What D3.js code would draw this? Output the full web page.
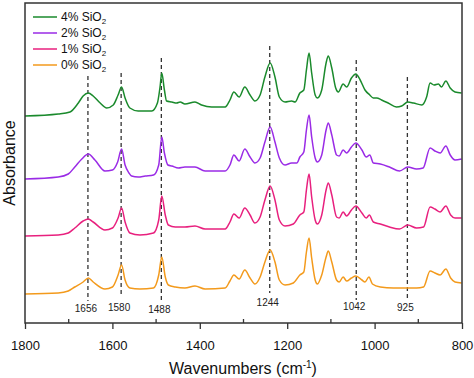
<!DOCTYPE html>
<html><head><meta charset="utf-8">
<script src="https://cdn.jsdelivr.net/npm/d3@7"></script>
<style>
html,body{margin:0;padding:0;background:#fff;}
svg{display:block;font-family:Arial,"Liberation Sans",sans-serif;}
</style></head>
<body><svg id="c" width="474" height="378"></svg>
<script>
// ---------- DATA ----------
const seriesNames = ["4% SiO2", "2% SiO2", "1% SiO2", "0% SiO2"];
const seriesColors = ["#1a8a2c", "#9a2be6", "#e8207e", "#f39a1c"];

const wn4 = [1800,1724,1697,1678,1667,1655,1644,1628,1613,1598,1587,1579,1571,1560,1541,1510,1497,1491,1487,1481,1476,1464,1453,1445,1434,1411,1396,1373,1342,1331,1322,1310,1297,1285,1274,1262,1251,1239,1228,1218,1205,1190,1182,1171,1162,1156,1150,1144,1136,1131,1121,1111,1106,1098,1089,1083,1072,1064,1053,1043,1033,1022,1011,1003,995,984,969,950,938,924,911,892,881,873,864,854,847,837,827,816,801];
const abs4 = [2.07,2.09,2.11,2.20,2.27,2.30,2.27,2.20,2.15,2.18,2.28,2.36,2.25,2.15,2.12,2.12,2.20,2.36,2.50,2.33,2.22,2.21,2.20,2.21,2.19,2.21,2.18,2.16,2.16,2.23,2.31,2.26,2.36,2.28,2.22,2.28,2.46,2.60,2.46,2.26,2.21,2.22,2.21,2.30,2.33,2.53,2.70,2.50,2.28,2.25,2.33,2.60,2.67,2.55,2.35,2.31,2.39,2.36,2.45,2.49,2.43,2.33,2.28,2.25,2.25,2.23,2.20,2.16,2.17,2.21,2.20,2.18,2.26,2.40,2.38,2.39,2.36,2.42,2.35,2.31,2.30];

const wn2 = [1800,1724,1701,1686,1670,1655,1640,1617,1600,1588,1579,1571,1562,1556,1541,1525,1506,1494,1487,1481,1473,1464,1449,1434,1411,1388,1342,1331,1322,1310,1297,1285,1274,1262,1251,1239,1228,1218,1205,1190,1178,1171,1162,1156,1150,1144,1136,1131,1121,1111,1106,1098,1087,1081,1072,1064,1053,1043,1029,1019,1011,1003,987,966,943,924,904,889,873,862,850,837,827,816,801];
const abs2 = [1.44,1.46,1.49,1.56,1.64,1.69,1.63,1.52,1.53,1.61,1.74,1.58,1.50,1.47,1.46,1.47,1.48,1.58,1.86,1.70,1.58,1.57,1.55,1.56,1.56,1.52,1.52,1.58,1.68,1.62,1.74,1.66,1.60,1.65,1.81,1.96,1.81,1.65,1.58,1.60,1.60,1.66,1.71,1.93,2.08,1.86,1.65,1.61,1.68,1.93,2.00,1.88,1.68,1.67,1.73,1.70,1.76,1.80,1.73,1.66,1.68,1.60,1.59,1.56,1.52,1.56,1.54,1.55,1.75,1.72,1.70,1.77,1.68,1.63,1.64];

const wn1 = [1800,1724,1701,1686,1667,1655,1644,1617,1600,1587,1579,1571,1560,1537,1506,1494,1487,1479,1472,1456,1434,1411,1388,1342,1331,1322,1310,1297,1285,1274,1262,1251,1239,1228,1218,1205,1186,1171,1162,1156,1150,1144,1136,1131,1121,1111,1106,1098,1087,1081,1072,1064,1053,1043,1029,1019,1012,1003,987,966,943,924,904,888,873,862,850,837,826,816,801];
const abs1 = [0.87,0.88,0.90,0.95,1.02,1.04,1.01,0.93,0.95,1.05,1.15,1.01,0.90,0.88,0.90,1.03,1.27,1.08,0.98,0.96,0.96,0.97,0.94,0.94,1.01,1.09,1.05,1.15,1.08,1.00,1.06,1.23,1.37,1.23,1.03,0.97,0.99,1.08,1.11,1.33,1.49,1.26,1.03,0.99,1.08,1.33,1.40,1.28,1.06,1.05,1.11,1.07,1.13,1.17,1.10,1.05,1.08,1.01,0.99,0.96,0.94,0.98,0.95,0.96,1.16,1.14,1.11,1.17,1.08,1.05,1.05];

const wn0 = [1800,1724,1701,1686,1667,1655,1644,1617,1600,1587,1579,1571,1560,1537,1506,1494,1487,1479,1472,1456,1434,1411,1388,1342,1331,1322,1310,1297,1285,1274,1262,1251,1239,1228,1218,1205,1186,1171,1162,1156,1150,1144,1136,1131,1121,1111,1106,1098,1087,1081,1072,1064,1053,1043,1029,1022,1013,1005,987,957,924,904,888,873,862,850,837,826,816,801];
const abs0 = [0.29,0.30,0.32,0.36,0.41,0.45,0.41,0.34,0.36,0.48,0.58,0.43,0.35,0.34,0.35,0.48,0.66,0.46,0.38,0.36,0.35,0.37,0.34,0.35,0.42,0.48,0.44,0.53,0.45,0.39,0.46,0.61,0.73,0.61,0.43,0.38,0.40,0.48,0.51,0.71,0.85,0.65,0.43,0.39,0.48,0.66,0.72,0.61,0.43,0.41,0.46,0.42,0.45,0.47,0.43,0.41,0.46,0.39,0.36,0.35,0.35,0.35,0.36,0.52,0.50,0.48,0.54,0.45,0.41,0.40];

const peakLabels = ["1656", "1580", "1488", "1244", "1042", "925"];
const peakWn = [1656, 1580, 1488, 1240, 1042, 925];   // where the marker lines sit on the axis
const xTicks = [1800, 1600, 1400, 1200, 1000, 800];
const xMinorTicks = [1700, 1500, 1300, 1100, 900];

// ---------- LAYOUT ----------
const svg = d3.select("#c");
const L = 25, R = 462, T = 3, B = 323;
const x = d3.scaleLinear().domain([1800, 800]).range([L, R]);
const y = d3.scaleLinear().domain([0, 3.2]).range([B, T]);

const series = [
  {wn: wn4, a: abs4}, {wn: wn2, a: abs2}, {wn: wn1, a: abs1}, {wn: wn0, a: abs0}
];

// dashed marker extents (vertical placement, absorbance units)
const dashTop = [2.47, 2.50, 2.65, 2.77, 2.63, 2.46];
const dashBot = [0.22, 0.26, 0.23, 0.30, 0.23, 0.23];
const labelY = [0.11, 0.12, 0.10, 0.17, 0.13, 0.12];

const line = d3.line().x(d => x(d[0])).y(d => y(d[1])).curve(d3.curveMonotoneX);

// dashed lines
svg.append("g").selectAll("line").data(peakWn).join("line")
  .attr("x1", d => x(d)).attr("x2", d => x(d))
  .attr("y1", (d,i) => y(dashTop[i])).attr("y2", (d,i) => y(dashBot[i]))
  .attr("stroke", "#333").attr("stroke-width", 1.3).attr("stroke-dasharray", "4,3");

// series
series.forEach((s, i) => {
  const pts = s.wn.map((w, k) => [w, s.a[k]]);
  svg.append("path").datum(pts).attr("d", line)
    .attr("fill", "none").attr("stroke", seriesColors[i]).attr("stroke-width", 1.5)
    .attr("stroke-linejoin", "round");
});

// peak labels
svg.append("g").selectAll("text").data(peakWn).join("text")
  .attr("x", d => x(d) - 2).attr("y", (d,i) => y(labelY[i]))
  .attr("text-anchor", "middle").attr("font-size", 10).attr("fill", "#222")
  .text((d,i) => peakLabels[i]);

// frame
svg.append("rect").attr("x", L).attr("y", T).attr("width", R - L).attr("height", B - T)
  .attr("fill", "none").attr("stroke", "#333").attr("stroke-width", 1.5);

// x axis
const ax = svg.append("g").attr("transform", `translate(0,${B})`)
  .call(d3.axisBottom(x).tickValues(xTicks).tickSize(6).tickFormat(d3.format("d")));
ax.select(".domain").remove();
ax.selectAll(".tick line").attr("stroke", "#333").attr("stroke-width", 1.3);
ax.selectAll(".tick text").attr("font-size", 13).attr("fill", "#111").attr("dy", "1.4em")
  .attr("font-family", "Arial, 'Liberation Sans', sans-serif");

svg.append("g").selectAll("line").data(xMinorTicks).join("line")
  .attr("x1", d => x(d)).attr("x2", d => x(d)).attr("y1", B).attr("y2", B - 4)
  .attr("stroke", "#333").attr("stroke-width", 1.3);

// axis titles
const xt = svg.append("text").attr("x", 243).attr("y", 374).attr("text-anchor", "middle")
  .attr("font-size", 16).attr("fill", "#111");
xt.append("tspan").text("Wavenumbers (cm");
xt.append("tspan").attr("font-size", 10).attr("dy", -6).text("-1");
xt.append("tspan").attr("dy", 6).text(")");

svg.append("text").attr("transform", "translate(15,163) rotate(-90)")
  .attr("text-anchor", "middle").attr("font-size", 16).attr("fill", "#111").text("Absorbance");

// legend
const lg = svg.append("g");
seriesNames.forEach((n, i) => {
  const yy = 17 + i * 16;
  lg.append("line").attr("x1", 33).attr("x2", 57).attr("y1", yy).attr("y2", yy)
    .attr("stroke", seriesColors[i]).attr("stroke-width", 1.5);
  const t = lg.append("text").attr("x", 61).attr("y", yy + 4).attr("font-size", 12).attr("fill", "#111");
  t.append("tspan").text(n.slice(0, -1));
  t.append("tspan").attr("font-size", 8).attr("dy", 3).text(n.slice(-1));
});
</script></body></html>
